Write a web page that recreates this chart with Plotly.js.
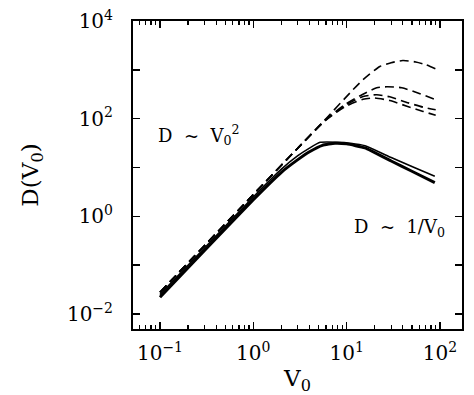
<!DOCTYPE html>
<html>
<head>
<meta charset="utf-8">
<script src="https://cdn.plot.ly/plotly-3.0.1.min.js"></script>
<style>html,body{margin:0;padding:0;background:#fff;}#chart{width:474px;height:395px;}</style>
</head>
<body>
<div id="chart"></div>
<script>
// ---- data ----
const solidUpperV = [0.1, 0.3, 1, 2, 3, 4, 5.2, 8, 11, 15.7, 30, 50, 88];
const solidUpperD = [0.025, 0.225, 2.5, 9.3, 17.5, 25, 32.8, 33, 31.5, 28, 16, 10.5, 6.6];

const solidLowerV = [0.1, 0.3, 1, 2, 3, 4, 5.5, 7.5, 10, 15.7, 30, 50, 88];
const solidLowerD = [0.022, 0.2, 2.2, 8, 14.5, 21, 28.5, 31.5, 30.5, 25.2, 13.6, 8.4, 4.9];

const dash1V = [0.1, 1, 3, 6, 10.9, 15, 22.7, 30, 40, 55, 70, 90];
const dash1D = [0.028, 2.8, 25, 100, 340, 630, 1170, 1400, 1550, 1450, 1280, 1050];

const dash2V = [0.1, 1, 3, 6, 9.6, 14.6, 21, 27, 39, 61, 90];
const dash2D = [0.028, 2.8, 25, 97, 194, 309, 430, 450, 430, 324, 245];

const dash3V = [0.1, 1, 3, 6, 9.6, 15, 21, 29, 45, 66, 90];
const dash3D = [0.028, 2.8, 25, 95, 185, 285, 309, 280, 213, 172, 152];

const dash4V = [0.1, 1, 3, 6, 9.6, 15, 20, 29, 45, 66, 90];
const dash4D = [0.028, 2.8, 25, 93, 175, 250, 265, 235, 178, 141, 117];

const xTickVals = [0.1, 1, 10, 100];
const xTickText = ['10<sup>−1</sup>', '10<sup>0</sup>', '10<sup>1</sup>', '10<sup>2</sup>'];
const xMinorVals = [0.06,0.07,0.08,0.09, 0.2,0.3,0.4,0.5,0.6,0.7,0.8,0.9, 2,3,4,5,6,7,8,9, 20,30,40,50,60,70,80,90];
const yTickVals = [0.001, 0.01, 0.1, 1, 10, 100, 1000, 10000];
const yTickText = ['', '10<sup>−2</sup>', '', '10<sup>0</sup>', '', '10<sup>2</sup>', '', '10<sup>4</sup>'];

const FONT = 'DejaVu Serif, Liberation Serif, serif';

function solid(x, y, w) {
  return {x: x, y: y, type: 'scatter', mode: 'lines', line: {color: '#000', width: w, shape: 'spline', smoothing: 0.4}, showlegend: false, hoverinfo: 'skip'};
}
function dashed(x, y) {
  return {x: x, y: y, type: 'scatter', mode: 'lines', line: {color: '#000', width: 1.6, dash: '9px,5px', shape: 'spline', smoothing: 0.6}, showlegend: false, hoverinfo: 'skip'};
}

const traces = [
  solid(solidUpperV, solidUpperD, 1.6),
  solid(solidLowerV, solidLowerD, 3),
  dashed(dash1V, dash1D),
  dashed(dash2V, dash2D),
  dashed(dash3V, dash3D),
  dashed(dash4V, dash4D)
];

const layout = {
  width: 474, height: 395,
  margin: {l: 133, r: 12, t: 21, b: 66},
  paper_bgcolor: '#fff', plot_bgcolor: '#fff',
  font: {family: FONT, color: '#000', size: 18},
  xaxis: {
    type: 'log', range: [-1.289, 2.236],
    showgrid: false, zeroline: false,
    showline: true, linewidth: 2, linecolor: '#000', mirror: 'ticks',
    ticks: 'inside', ticklen: 7, tickwidth: 1.5, tickcolor: '#000',
    tickmode: 'array', tickvals: xTickVals, ticktext: xTickText,
    tickfont: {family: FONT, size: 20},
    ticklabelstandoff: 5,
    minor: {tickmode: 'array', tickvals: xMinorVals, ticks: 'inside', ticklen: 4, tickwidth: 1.3, tickcolor: '#000', showgrid: false},
    title: {text: 'V<sub>0</sub>', font: {family: FONT, size: 23}, standoff: 6}
  },
  yaxis: {
    type: 'log', range: [-2.306, 4.0],
    showgrid: false, zeroline: false,
    showline: true, linewidth: 2, linecolor: '#000', mirror: 'ticks',
    ticks: 'inside', ticklen: 7, tickwidth: 1.5, tickcolor: '#000',
    tickmode: 'array', tickvals: yTickVals, ticktext: yTickText,
    tickfont: {family: FONT, size: 20},
    ticklabelstandoff: 14,
    title: {text: 'D(V<sub>0</sub>)', font: {family: FONT, size: 23}, standoff: 22}
  },
  annotations: [
    {xref: 'paper', yref: 'paper', x: 0.07, y: 0.63, xanchor: 'left', yanchor: 'middle',
     text: 'D\u00a0\u00a0~\u00a0\u00a0V<sub>0</sub><sup>2</sup>', showarrow: false, font: {family: FONT, size: 18, color: '#000'}},
    {xref: 'paper', yref: 'paper', x: 0.665, y: 0.327, xanchor: 'left', yanchor: 'middle',
     text: 'D\u00a0\u00a0~\u00a0\u00a01/V<sub>0</sub>', showarrow: false, font: {family: FONT, size: 18, color: '#000'}}
  ]
};

Plotly.newPlot('chart', traces, layout, {staticPlot: true, displayModeBar: false});
</script>
</body>
</html>
